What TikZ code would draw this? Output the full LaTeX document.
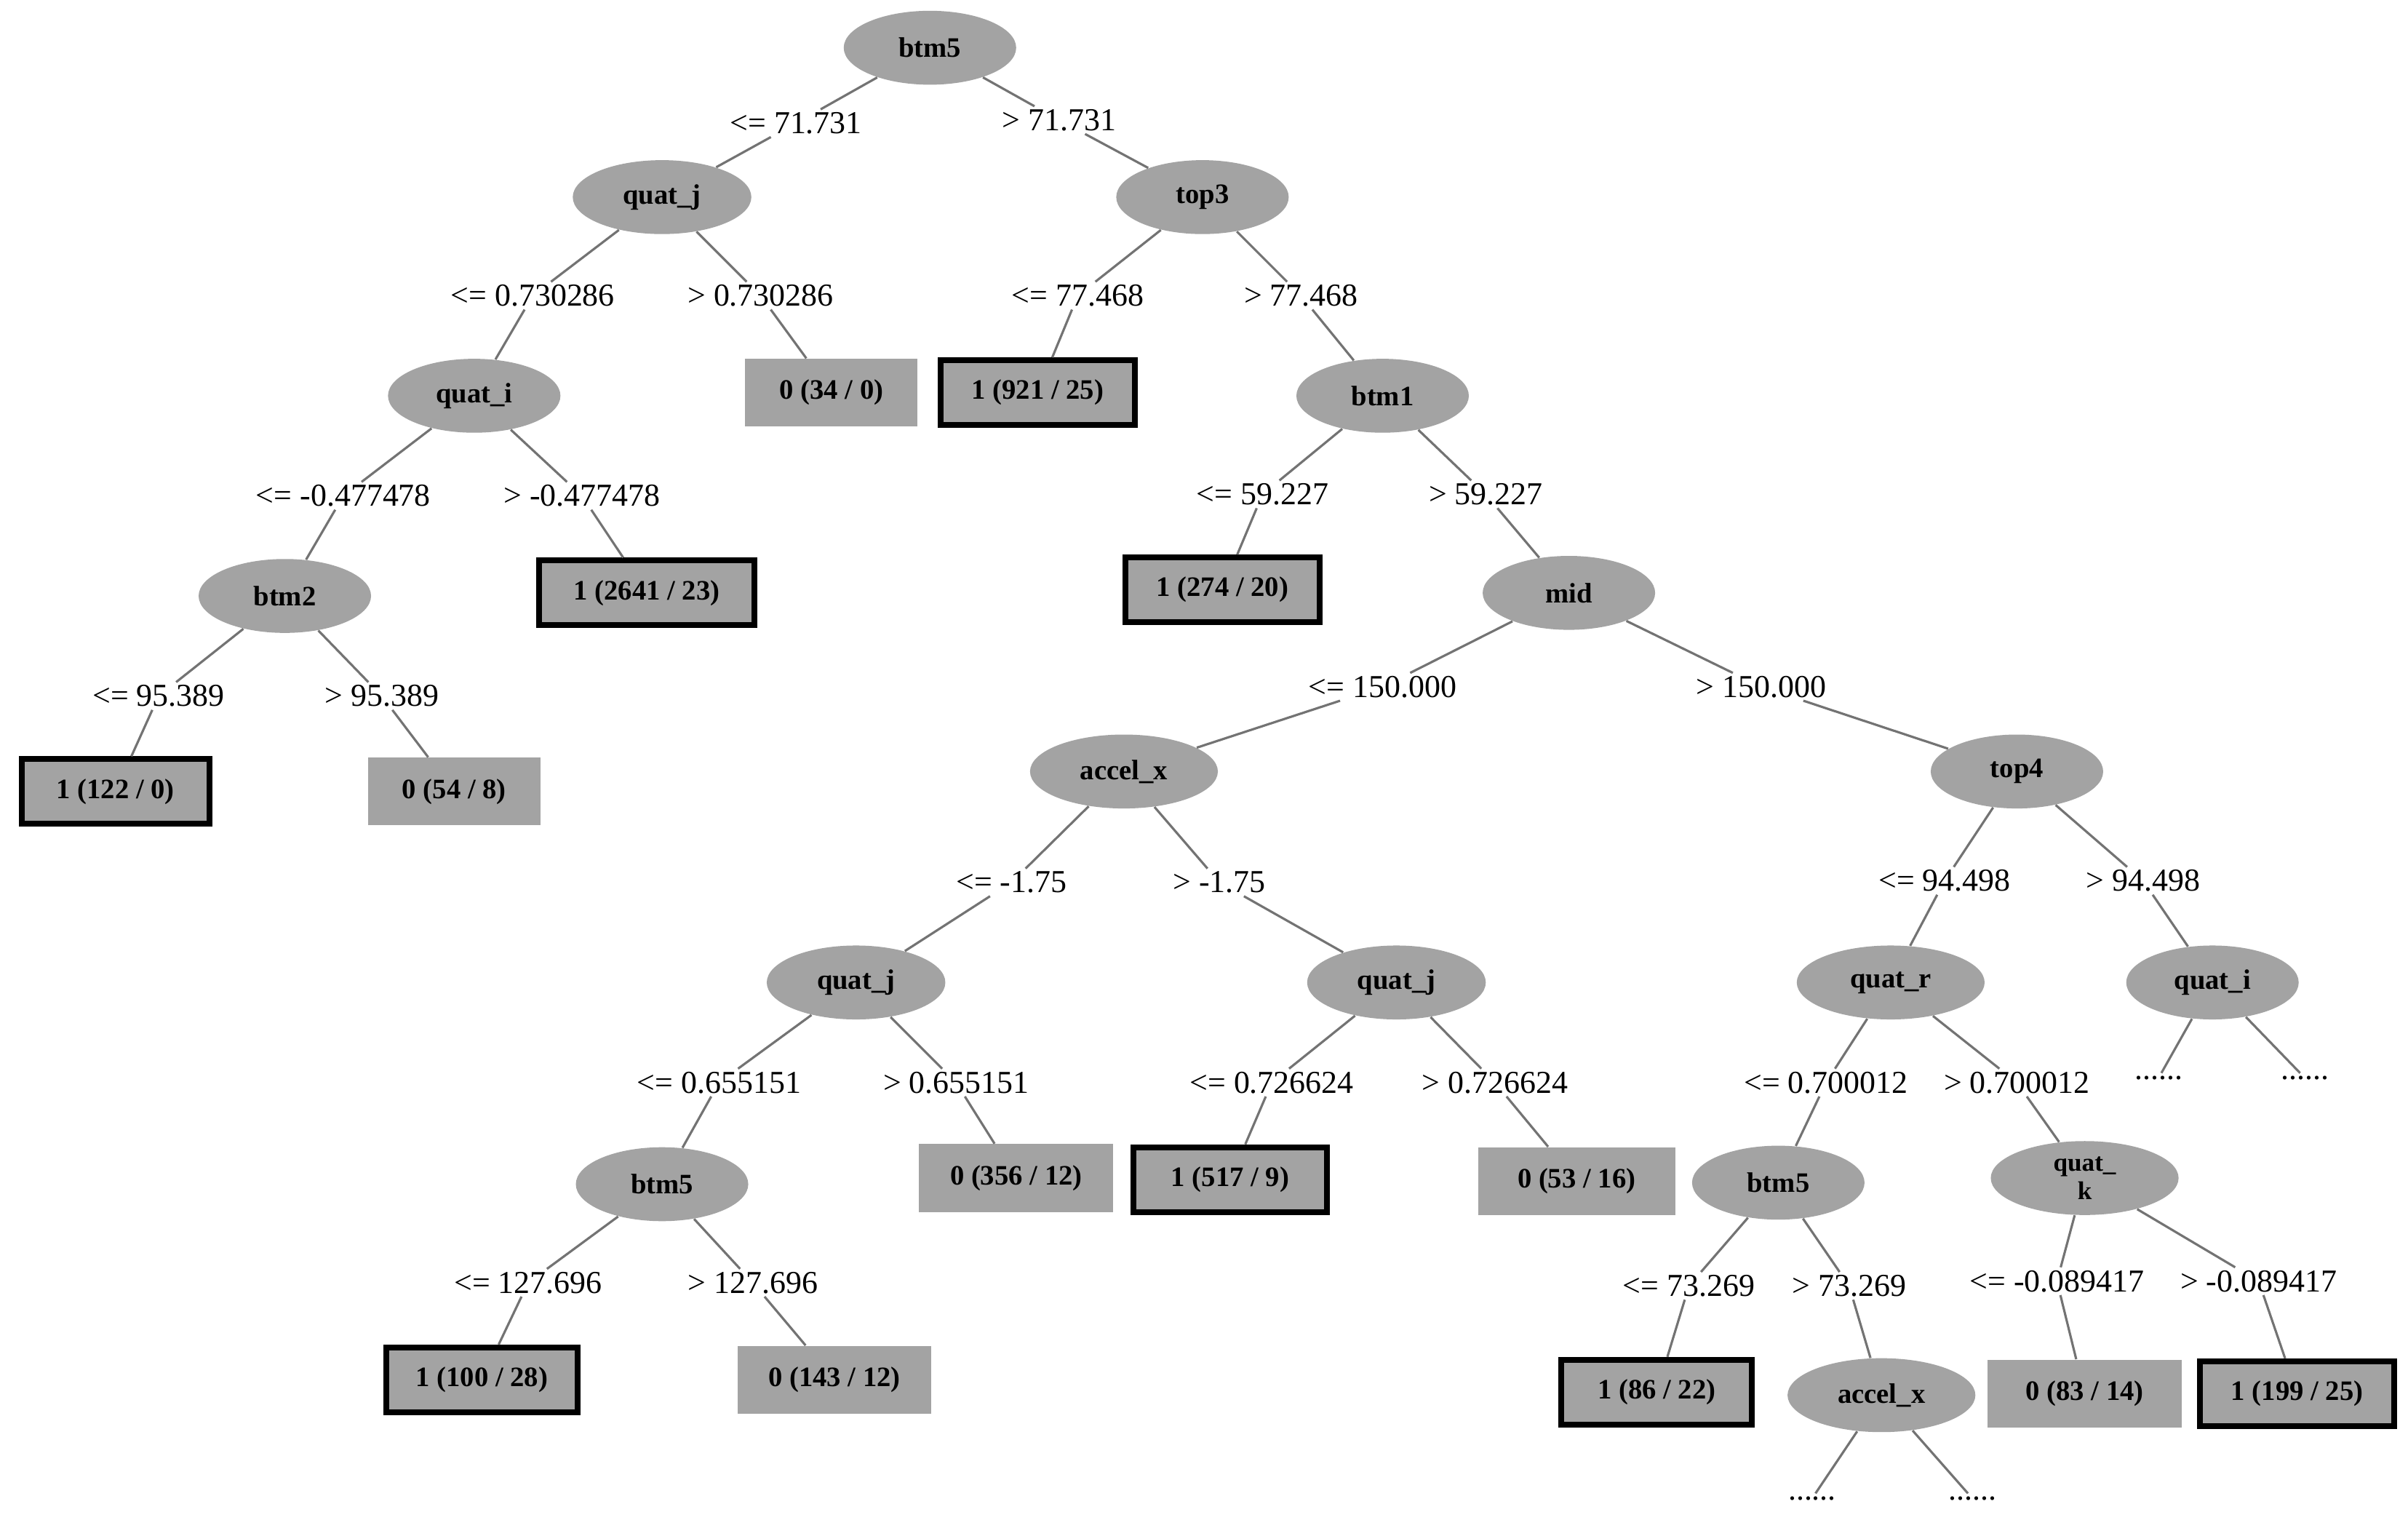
\documentclass[tikz,border=0pt]{standalone}
\usepackage{fontspec}
\usetikzlibrary{shapes.geometric}
\setmainfont{Liberation Serif}
\begin{document}
\begin{tikzpicture}[x=0.02116cm,y=-0.02116cm,
 ell/.style={ellipse,fill=black!36,draw=none,font=\bfseries\fontsize{11}{12}\selectfont,minimum width=112*0.02116cm,minimum height=48*0.02116cm,inner sep=0pt,align=center},
 lab/.style={font=\fontsize{12.5}{14}\selectfont,inner sep=1pt},
 leaf/.style={rectangle,fill=black!36,font=\bfseries\fontsize{11}{12}\selectfont,minimum width=#1*0.02116cm,minimum height=44*0.02116cm,inner sep=0pt},
 bleaf/.style={leaf=#1,draw=black,line width=2.3pt,minimum height=42*0.02116cm},
 edge/.style={draw=black!55,line width=0.9pt}]
\useasboundingbox (0,0) rectangle (1564,992);
% ellipses
\node[ell] (n1) at (604,31) {btm5};
\node[ell,minimum width=116*0.02116cm] (n2) at (430,128) {quat\_j};
\node[ell] (n3) at (781,128) {top3};
\node[ell] (n4) at (308,257) {quat\_i};
\node[ell] (n5) at (898,257) {btm1};
\node[ell] (n6) at (185,387) {btm2};
\node[ell] (n7) at (1019,385) {mid};
\node[ell,minimum width=122*0.02116cm] (n8) at (730,501) {accel\_x};
\node[ell] (n9) at (1310,501) {top4};
\node[ell,minimum width=116*0.02116cm] (n10) at (556,638) {quat\_j};
\node[ell,minimum width=116*0.02116cm] (n11) at (907,638) {quat\_j};
\node[ell,minimum width=122*0.02116cm] (n12) at (1228,638) {quat\_r};
\node[ell] (n13) at (1437,638) {quat\_i};
\node[ell] (n14) at (430,769) {btm5};
\node[ell] (n15) at (1155,768) {btm5};
\node[ell,minimum width=122*0.02116cm,font=\bfseries\fontsize{10}{11}\selectfont] (n16) at (1354,765) {quat\_\\k};
\node[ell,minimum width=122*0.02116cm] (n17) at (1222,906) {accel\_x};
% leaves
\node[leaf=112] (f1) at (540,255) {0 (34 / 0)};
\node[bleaf=126] (f2) at (674,255) {1 (921 / 25)};
\node[bleaf=140] (f3) at (420,385) {1 (2641 / 23)};
\node[bleaf=126] (f4) at (794,383) {1 (274 / 20)};
\node[bleaf=122] (f5) at (75,514) {1 (122 / 0)};
\node[leaf=112] (f6) at (295,514) {0 (54 / 8)};
\node[leaf=126] (f7) at (660,765) {0 (356 / 12)};
\node[bleaf=126] (f8) at (799,766) {1 (517 / 9)};
\node[leaf=128] (f9) at (1024,767) {0 (53 / 16)};
\node[bleaf=124] (f10) at (313,896) {1 (100 / 28)};
\node[leaf=126] (f11) at (542,896) {0 (143 / 12)};
\node[bleaf=124] (f12) at (1076,904) {1 (86 / 22)};
\node[leaf=126] (f13) at (1354,905) {0 (83 / 14)};
\node[bleaf=126] (f14) at (1492,905) {1 (199 / 25)};
% labels
\node[lab] (a1) at (517,80) {<= 71.731};
\node[lab] (b1) at (688,78) {> 71.731};
\node[lab] (a2) at (346,192) {<= 0.730286};
\node[lab] (b2) at (494,192) {> 0.730286};
\node[lab] (a3) at (700,192) {<= 77.468};
\node[lab] (b3) at (845,192) {> 77.468};
\node[lab] (a4) at (223,322) {<= -0.477478};
\node[lab] (b4) at (378,322) {> -0.477478};
\node[lab] (a5) at (820,321) {<= 59.227};
\node[lab] (b5) at (965,321) {> 59.227};
\node[lab] (a6) at (103,452) {<= 95.389};
\node[lab] (b6) at (248,452) {> 95.389};
\node[lab] (a7) at (898,446) {<= 150.000};
\node[lab] (b7) at (1144,446) {> 150.000};
\node[lab] (a8) at (657,573) {<= -1.75};
\node[lab] (b8) at (792,573) {> -1.75};
\node[lab] (a9) at (1263,572) {<= 94.498};
\node[lab] (b9) at (1392,572) {> 94.498};
\node[lab] (a10) at (467,703) {<= 0.655151};
\node[lab] (b10) at (621,703) {> 0.655151};
\node[lab] (a11) at (826,703) {<= 0.726624};
\node[lab] (b11) at (971,703) {> 0.726624};
\node[lab] (a12) at (1186,703) {<= 0.700012};
\node[lab] (b12) at (1310,703) {> 0.700012};
\node[lab] (a14) at (343,833) {<= 127.696};
\node[lab] (b14) at (489,833) {> 127.696};
\node[lab] (a15) at (1097,835) {<= 73.269};
\node[lab] (b15) at (1201,835) {> 73.269};
\node[lab] (a16) at (1336,832) {<= -0.089417};
\node[lab] (b16) at (1467,832) {> -0.089417};
\node[lab] (d1) at (1402,700) {......};
\node[lab] (d2) at (1497,700) {......};
\node[lab] (d3) at (1177,973) {......};
\node[lab] (d4) at (1281,973) {......};
% edges
\draw[edge] (n1) -- (a1) -- (n2);
\draw[edge] (n1) -- (b1) -- (n3);
\draw[edge] (n2) -- (a2) -- (n4);
\draw[edge] (n2) -- (b2) -- (f1);
\draw[edge] (n3) -- (a3) -- (f2);
\draw[edge] (n3) -- (b3) -- (n5);
\draw[edge] (n4) -- (a4) -- (n6);
\draw[edge] (n4) -- (b4) -- (f3);
\draw[edge] (n5) -- (a5) -- (f4);
\draw[edge] (n5) -- (b5) -- (n7);
\draw[edge] (n6) -- (a6) -- (f5);
\draw[edge] (n6) -- (b6) -- (f6);
\draw[edge] (n7) -- (a7) -- (n8);
\draw[edge] (n7) -- (b7) -- (n9);
\draw[edge] (n8) -- (a8) -- (n10);
\draw[edge] (n8) -- (b8) -- (n11);
\draw[edge] (n9) -- (a9) -- (n12);
\draw[edge] (n9) -- (b9) -- (n13);
\draw[edge] (n10) -- (a10) -- (n14);
\draw[edge] (n10) -- (b10) -- (f7);
\draw[edge] (n11) -- (a11) -- (f8);
\draw[edge] (n11) -- (b11) -- (f9);
\draw[edge] (n12) -- (a12) -- (n15);
\draw[edge] (n12) -- (b12) -- (n16);
\draw[edge] (n13) -- (d1);
\draw[edge] (n13) -- (d2);
\draw[edge] (n14) -- (a14) -- (f10);
\draw[edge] (n14) -- (b14) -- (f11);
\draw[edge] (n15) -- (a15) -- (f12);
\draw[edge] (n15) -- (b15) -- (n17);
\draw[edge] (n16) -- (a16) -- (f13);
\draw[edge] (n16) -- (b16) -- (f14);
\draw[edge] (n17) -- (d3);
\draw[edge] (n17) -- (d4);
\end{tikzpicture}
\end{document}
